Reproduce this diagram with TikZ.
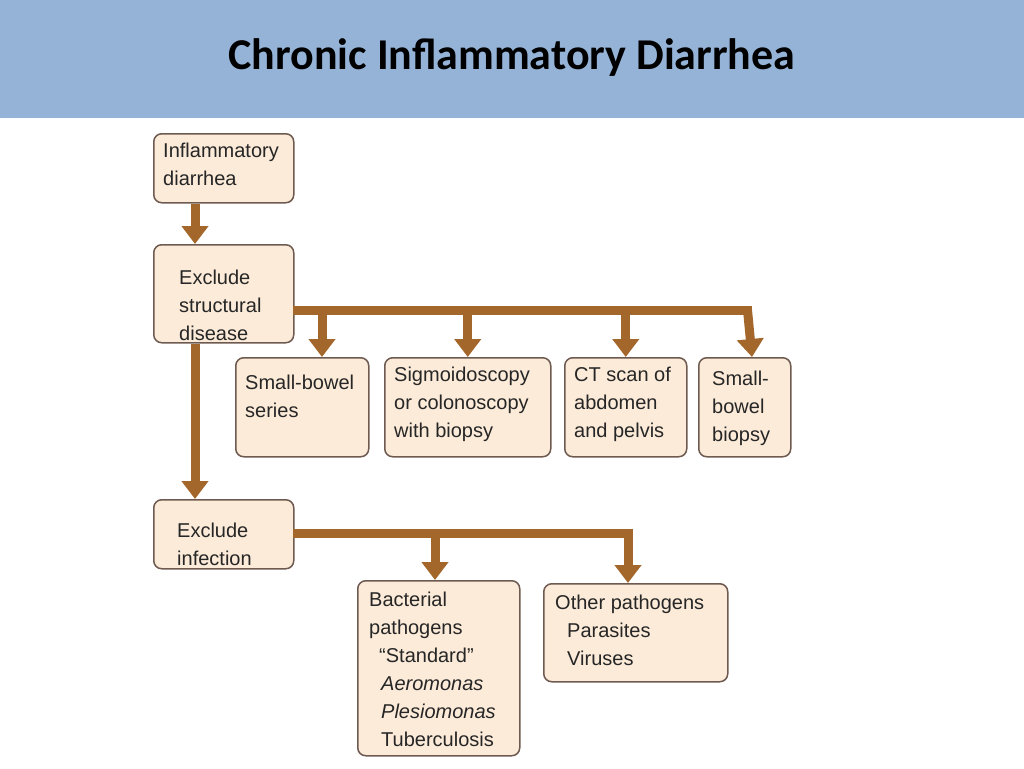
\documentclass[tikz,border=0pt]{standalone}
\usepackage{fontspec}
\setmainfont{Liberation Sans}
\newfontfamily\titlefont{Carlito}
\usetikzlibrary{arrows.meta}
\definecolor{band}{HTML}{95B3D7}
\definecolor{boxfill}{HTML}{FCEBD9}
\definecolor{boxline}{HTML}{6E5A50}
\definecolor{brn}{HTML}{A3672C}
\begin{document}
\begin{tikzpicture}[x=1pt,y=-1pt,
  bx/.style={draw=boxline,line width=1.5pt,fill=boxfill,rounded corners=8pt,anchor=north west,align=left,inner sep=0pt,
    font=\fontsize{20}{28}\selectfont,text=black!85},
  ln/.style={draw=brn,line width=9pt},
  ar/.style={ln,-{Triangle[width=26pt,length=18pt]}}]
\useasboundingbox (0,0) rectangle (1024,768);
\fill[band] (0,0) rectangle (1024,118);
\node (title) at (512,58) {\titlefont\bfseries\fontsize{44}{50}\selectfont Chronic Inflammatory Diarrhea};
\newcommand\mybox[7]{\node[bx,minimum width=#4pt,minimum height=#5pt,text width=#4pt-#6pt*2] (#1) at (#2,#3) {};
  \node[anchor=north west,align=left,inner sep=0pt,font=\fontsize{20}{28}\selectfont,text=black!85] (#1t) at ([xshift=#6pt,yshift=-#6pt]#1.north west) {#7};}
\mybox{inf}{153}{133}{140}{69}{10}{Inflammatory\\diarrhea}
\mybox{exs}{153}{244}{140}{98}{26}{Exclude\\structural\\disease}
\mybox{sbs}{235}{357}{133}{99}{10}{\\[-6pt]Small-bowel\\series}
\mybox{sig}{384}{357}{166}{99}{10}{Sigmoidoscopy\\or colonoscopy\\with biopsy}
\mybox{ct}{564}{357}{122}{99}{10}{CT scan of\\abdomen\\and pelvis}
\mybox{sbb}{698}{357}{92}{99}{14}{Small-\\bowel\\biopsy}
\mybox{exi}{153}{499}{140}{69}{24}{Exclude\\infection}
\mybox{bac}{357}{580}{162}{175}{12}{Bacterial\\pathogens\\\hspace*{10pt}``Standard''\\\hspace*{12pt}\textit{Aeromonas}\\\hspace*{12pt}\textit{Plesiomonas}\\\hspace*{12pt}Tuberculosis}
\mybox{oth}{543}{583}{184}{98}{12}{Other pathogens\\\hspace*{12pt}Parasites\\\hspace*{12pt}Viruses}
\draw[ar] (inf.south -| 195,0) -- (exs.north -| 195,0);
\draw[ar] (exs.south -| 195,0) -- (exi.north -| 195,0);
\coordinate (j1) at (293,310);
\draw[ln] (j1) -- (752,310);
\draw[ar] (j1 -| 322,0) -- (sbs.north -| 322,0);
\draw[ar] (j1 -| sig.north) -- (sig.north);
\draw[ar] (j1 -| ct.north) -- (ct.north);
\draw[ar] (747.5,310) -- (sbb.north -| 752,0);
\coordinate (j2) at (293,533);
\draw[ln] (j2) -- (632.5,533);
\draw[ar] (j2 -| 435,0) -- (bac.north -| 435,0);
\draw[ar] (j2 -| 628,0) -- (oth.north -| 628,0);
\end{tikzpicture}
\end{document}
